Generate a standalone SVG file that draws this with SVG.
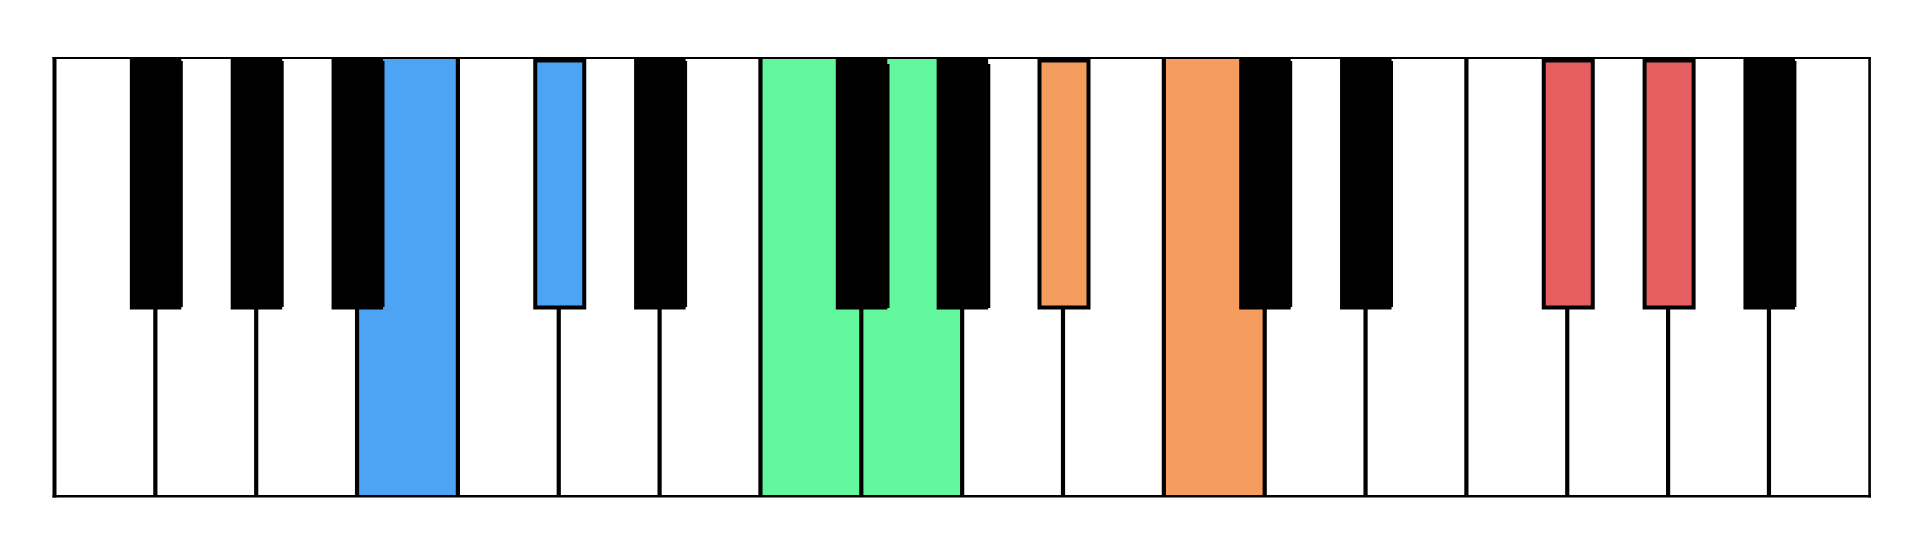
<svg xmlns="http://www.w3.org/2000/svg" width="1917" height="549" viewBox="0 0 1917 549">
<style>
.bk{fill:#000}
.ck{stroke:#000;stroke-width:4}
.div{stroke:#000;stroke-width:4.2;fill:none}
.blue{fill:#4DA3F4}
.green{fill:#62F79C}
.orange{fill:#F59C5F}
.red{fill:#E65E5F}
</style>
<rect width="1917" height="549" fill="#fff"/>
<g id="white-keys">
<rect id="wk3" class="blue" x="357.05" y="58" width="100.85" height="438"/>
<rect id="wk7" class="green" x="760.45" y="58" width="100.85" height="438"/>
<rect id="wk8" class="green" x="861.3" y="58" width="100.85" height="438"/>
<rect id="wk11" class="orange" x="1163.85" y="58" width="100.85" height="438"/>
</g>
<g id="dividers" class="div">
<line x1="155.35" y1="308" x2="155.35" y2="497"/>
<line x1="256.2" y1="308" x2="256.2" y2="497"/>
<line x1="357.05" y1="308" x2="357.05" y2="497"/>
<line x1="457.9" y1="57" x2="457.9" y2="497"/>
<line x1="558.75" y1="308" x2="558.75" y2="497"/>
<line x1="659.6" y1="308" x2="659.6" y2="497"/>
<line x1="760.45" y1="57" x2="760.45" y2="497"/>
<line x1="861.3" y1="308" x2="861.3" y2="497"/>
<line x1="962.15" y1="308" x2="962.15" y2="497"/>
<line x1="1063" y1="308" x2="1063" y2="497"/>
<line x1="1163.85" y1="57" x2="1163.85" y2="497"/>
<line x1="1264.7" y1="308" x2="1264.7" y2="497"/>
<line x1="1365.55" y1="308" x2="1365.55" y2="497"/>
<line x1="1466.4" y1="57" x2="1466.4" y2="497"/>
<line x1="1567.25" y1="308" x2="1567.25" y2="497"/>
<line x1="1668.1" y1="308" x2="1668.1" y2="497"/>
<line x1="1768.95" y1="308" x2="1768.95" y2="497"/>
</g>
<g id="border" stroke="#000" fill="none">
<line x1="52.5" y1="58" x2="1871" y2="58" stroke-width="2.2"/>
<line x1="52.5" y1="496.2" x2="1871" y2="496.2" stroke-width="2.4"/>
<line x1="54.5" y1="57" x2="54.5" y2="497.5" stroke-width="4"/>
<line x1="1869.6" y1="57" x2="1869.6" y2="497.5" stroke-width="2.6"/>
</g>
<g id="black-keys">
<g id="bk1"><rect class="bk" x="129.85" y="58.5" width="51.5" height="251"/><rect class="bk" x="179" y="61" width="3.8" height="246"/></g>
<g id="bk2"><rect class="bk" x="230.7" y="58.5" width="51.5" height="251"/><rect class="bk" x="279.9" y="61" width="3.8" height="246"/></g>
<g id="bk3"><rect class="bk" x="331.55" y="58.5" width="51.5" height="251"/><rect class="bk" x="380.7" y="61" width="3.8" height="246"/></g>
<g id="bk5"><rect class="ck blue" x="535.25" y="60.5" width="49" height="247"/></g>
<g id="bk6"><rect class="bk" x="634.1" y="58.5" width="51.5" height="251"/><rect class="bk" x="683.3" y="61" width="3.8" height="246"/></g>
<g id="bk8"><rect class="bk" x="835.8" y="58.5" width="51.5" height="251"/><rect class="bk" x="885" y="64" width="4.5" height="244"/></g>
<g id="bk9"><rect class="bk" x="936.65" y="58.5" width="51.5" height="251"/><rect class="bk" x="985.8" y="64" width="4.5" height="244"/></g>
<g id="bk10"><rect class="ck orange" x="1039.5" y="60.5" width="49" height="247"/></g>
<g id="bk12"><rect class="bk" x="1239.2" y="58.5" width="51.5" height="251"/><rect class="bk" x="1288.4" y="61" width="3.8" height="246"/></g>
<g id="bk13"><rect class="bk" x="1340.05" y="58.5" width="51.5" height="251"/><rect class="bk" x="1389.2" y="61" width="3.8" height="246"/></g>
<g id="bk15"><rect class="ck red" x="1543.75" y="60.5" width="49" height="247"/></g>
<g id="bk16"><rect class="ck red" x="1644.6" y="60.5" width="49" height="247"/></g>
<g id="bk17"><rect class="bk" x="1743.45" y="58.5" width="51.5" height="251"/><rect class="bk" x="1792.6" y="61" width="3.8" height="246"/></g>
</g>
</svg>
